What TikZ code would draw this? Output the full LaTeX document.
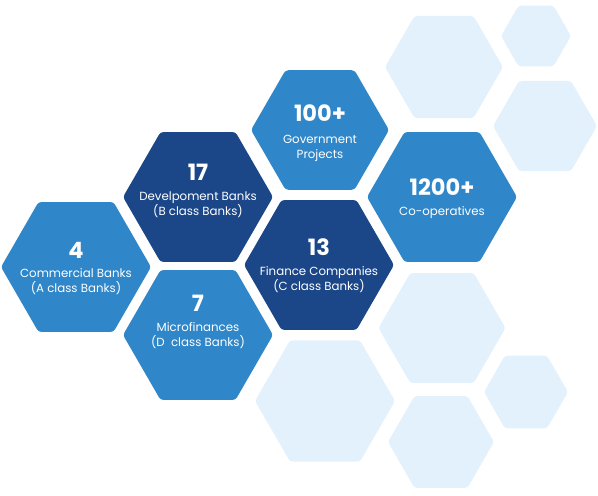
\documentclass[tikz,border=0pt]{standalone}
\usepackage{fontspec}
\setmainfont{Poppins}
\usetikzlibrary{shapes.geometric}
\definecolor{midblue}{RGB}{47,134,200}
\definecolor{darkblue}{RGB}{27,71,137}
\definecolor{paleblue}{RGB}{227,241,252}

\begin{document}
\begin{tikzpicture}
  [x=1pt,y=-1pt,every node/.style={text=white},
   hexa/.style={regular polygon,regular polygon sides=6,minimum size=#1,inner sep=0pt,rounded corners=3pt},
   num/.style={font=\fontsize{22.5}{22.5}\selectfont\bfseries},
   txt/.style={align=center,font=\fontsize{11.8}{15}\selectfont}]
  \useasboundingbox (0,0) rectangle (598,496);
  % pale hexagons in the back
  \foreach \x/\y/\d/\name in {444/67/118/bgtop,536/36/70/bgcorner,545/126/104/bgright,
              442/328/127/bgmid,325/401/140/bglow,441/442/106/bgbottom,526/392/84/bgsmall}
    \node[hexa=\d pt,fill=paleblue] (\name) at (\x,\y) {};
  % A class
  \node[hexa=150pt,fill=midblue] (comm) at (76,267) {};
  \node[num] (commnum) at (76,250) {4};
  \node[txt] (commtxt) at (76,281.5) {Commercial Banks\\(A class Banks)};
  % B class
  \node[hexa=150pt,fill=darkblue] (devel) at (198,197) {};
  \node[num] (develnum) at (198,172) {17};
  \node[txt] (develtxt) at (198,204.5) {Develpoment Banks\\(B class Banks)};
  % D class
  \node[hexa=150pt,fill=midblue] (micro) at (198,335) {};
  \node[num] (micronum) at (198,303) {7};
  \node[txt] (microtxt) at (198,335.5) {Microfinances\\(D~ class Banks)};
  % C class
  \node[hexa=150pt,fill=darkblue] (fin) at (319,265) {};
  \node[num] (finnum) at (319,247) {13};
  \node[txt] (fintxt) at (319,279.5) {Finance Companies\\(C class Banks)};
  % government
  \node[hexa=138pt,fill=midblue] (gov) at (320,130) {};
  \node[num] (govnum) at (320,113) {100+};
  \node[txt] (govtxt) at (320,148) {Government\\Projects};
  % co-operatives
  \node[hexa=150pt,fill=midblue] (coop) at (442,197) {};
  \node[num] (coopnum) at (442,187) {1200+};
  \node[txt] (cooptxt) at (442,213) {Co-operatives};
\end{tikzpicture}
\end{document}
